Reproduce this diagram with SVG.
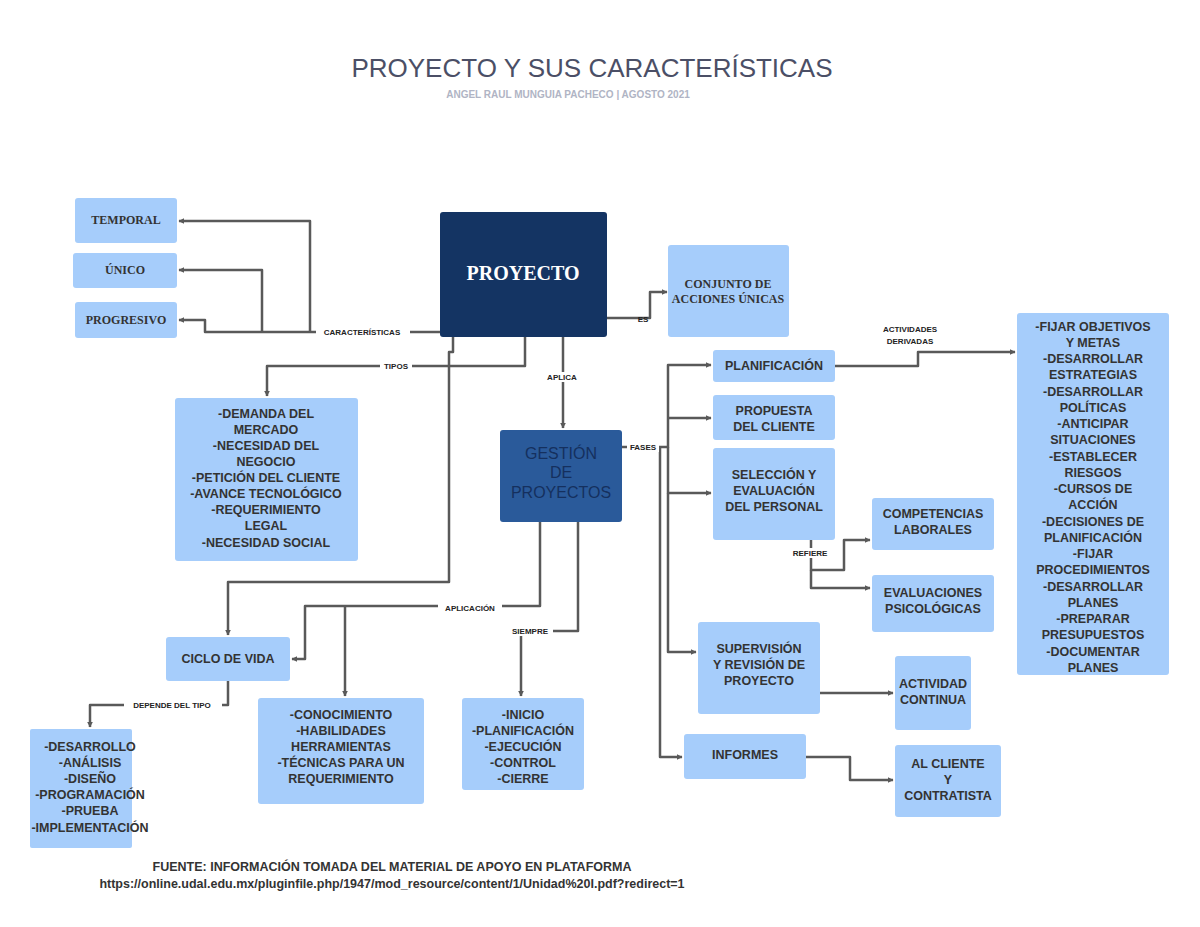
<svg xmlns="http://www.w3.org/2000/svg" width="1200" height="927" viewBox="0 0 1200 927">
<defs>
<marker id="ah" viewBox="0 0 10 10" refX="9" refY="5" markerWidth="6" markerHeight="6" orient="auto" markerUnits="userSpaceOnUse"><path d="M0,0 L10,5 L0,10 z" fill="#595959"/></marker>
<style>
.n{fill:#a6cdfb}
.t{font-family:"Liberation Sans",Arial,sans-serif;font-weight:bold;font-size:12.5px;fill:#333;text-anchor:middle}
.s{font-family:"Liberation Serif","Times New Roman",serif;font-weight:bold;font-size:12px;fill:#333;text-anchor:middle}
.c{fill:none;stroke:#595959;stroke-width:2.5;stroke-linejoin:round}
.a{marker-end:url(#ah)}
.l{font-family:"Liberation Sans",Arial,sans-serif;font-weight:bold;font-size:8px;fill:#222;text-anchor:middle}
.lb{fill:#fff}
</style>
</defs>
<rect width="1200" height="927" fill="#fff"/>
<text x="592" y="77" font-family="Liberation Sans,Arial,sans-serif" font-size="26" fill="#4b4f66" text-anchor="middle">PROYECTO Y SUS CARACTERÍSTICAS</text>
<text x="568" y="98" font-family="Liberation Sans,Arial,sans-serif" font-size="10" font-weight="bold" fill="#b0b4c4" text-anchor="middle">ANGEL RAUL MUNGUIA PACHECO  |  AGOSTO 2021</text>

<g id="connectors">
<path class="c a" d="M440,332 H205 V320 H179"/>
<path class="c a" d="M310,332 V221 H179"/>
<path class="c a" d="M262,332 V270 H179"/>
<rect class="lb" x="316" y="326" width="94" height="11"/><text class="l" x="362" y="335">CARACTERÍSTICAS</text>
<path class="c a" d="M607,318 H650 V292 H667"/>
<text class="l" x="643" y="322">ES</text>
<path class="c a" d="M525,337 V366 H267 V396"/>
<rect class="lb" x="380" y="361" width="32" height="10"/><text class="l" x="396" y="369">TIPOS</text>
<path class="c a" d="M563,337 V428"/>
<rect class="lb" x="542" y="372" width="40" height="10"/><text class="l" x="562" y="380">APLICA</text>
<path class="c a" d="M453,337 V352 H449 V582 H228 V635"/>
<path class="c a" d="M540,522 V606 H305 V659 H292"/>
<path class="c a" d="M345,606 V696"/>
<rect class="lb" x="438" y="603" width="64" height="10"/><text class="l" x="470" y="611">APLICACIÓN</text>
<path class="c a" d="M578,522 V631 H521 V696"/>
<rect class="lb" x="507" y="626" width="46" height="10"/><text class="l" x="530" y="634">SIEMPRE</text>
<path class="c a" d="M228,681 V705 H90 V727"/>
<rect class="lb" x="124" y="700" width="98" height="10"/><text class="l" x="172" y="708">DEPENDE DEL TIPO</text>
<path class="c a" d="M622,447 H668 V365 H711"/>
<path class="c a" d="M668,418 H711"/>
<path class="c a" d="M668,447 V493 H711"/>
<path class="c a" d="M668,493 V652 H696"/>
<path class="c a" d="M660,447 V757 H682"/>
<rect class="lb" x="627" y="442" width="32" height="10"/><text class="l" x="643" y="450">FASES</text>
<path class="c a" d="M835,366 H918 V352 H1015"/>
<text class="l" x="910" y="332">ACTIVIDADES</text><text class="l" x="910" y="344">DERIVADAS</text>
<path class="c a" d="M811,540 V570 H844 V540 H870"/>
<path class="c a" d="M811,570 V588 H870"/>
<rect class="lb" x="788" y="548" width="44" height="10"/><text class="l" x="810" y="556">REFIERE</text>
<path class="c a" d="M820,693 H893"/>
<path class="c a" d="M806,757 H850 V780 H893"/>
</g>

<g id="temporal"><rect class="n" x="75" y="198" width="102" height="45" rx="3"/><text class="s" x="126" y="224">TEMPORAL</text></g>
<g id="unico"><rect class="n" x="73" y="253" width="104" height="35" rx="3"/><text class="s" x="125" y="274">ÚNICO</text></g>
<g id="progresivo"><rect class="n" x="75" y="302" width="102" height="36" rx="3"/><text class="s" x="126" y="324">PROGRESIVO</text></g>
<g id="proyecto"><rect x="440" y="212" width="167" height="125" rx="3" fill="#143463"/><text x="523" y="280" font-family="Liberation Serif,Times New Roman,serif" font-weight="bold" font-size="20" fill="#fff" text-anchor="middle">PROYECTO</text></g>
<g id="conjunto"><rect class="n" x="668" y="245" width="121" height="92" rx="3"/><text class="s" x="728" y="288">CONJUNTO DE</text><text class="s" x="728" y="303">ACCIONES ÚNICAS</text></g>
<g id="tipos"><rect class="n" x="175" y="398" width="183" height="163" rx="3"/>
<text class="t" x="266" y="418">-DEMANDA DEL</text><text class="t" x="266" y="434">MERCADO</text><text class="t" x="266" y="450">-NECESIDAD DEL</text><text class="t" x="266" y="466">NEGOCIO</text><text class="t" x="266" y="482">-PETICIÓN DEL CLIENTE</text><text class="t" x="266" y="498">-AVANCE TECNOLÓGICO</text><text class="t" x="266" y="514">-REQUERIMIENTO</text><text class="t" x="266" y="530">LEGAL</text><text class="t" x="266" y="547">-NECESIDAD SOCIAL</text></g>
<g id="gestion"><rect x="500" y="430" width="122" height="92" rx="3" fill="#2a5a9a"/>
<text x="561" y="459" font-family="Liberation Sans,Arial,sans-serif" font-size="16" fill="#15305e" text-anchor="middle">GESTIÓN</text><text x="561" y="478" font-family="Liberation Sans,Arial,sans-serif" font-size="16" fill="#15305e" text-anchor="middle">DE</text><text x="561" y="498" font-family="Liberation Sans,Arial,sans-serif" font-size="16" fill="#15305e" text-anchor="middle">PROYECTOS</text></g>
<g id="planificacion"><rect class="n" x="713" y="350" width="122" height="32" rx="3"/><text class="t" x="774" y="370">PLANIFICACIÓN</text></g>
<g id="propuesta"><rect class="n" x="713" y="395" width="122" height="45" rx="3"/><text class="t" x="774" y="415">PROPUESTA</text><text class="t" x="774" y="431">DEL CLIENTE</text></g>
<g id="seleccion"><rect class="n" x="713" y="448" width="122" height="92" rx="3"/><text class="t" x="774" y="479">SELECCIÓN Y</text><text class="t" x="774" y="495">EVALUACIÓN</text><text class="t" x="774" y="511">DEL PERSONAL</text></g>
<g id="competencias"><rect class="n" x="872" y="498" width="122" height="52" rx="3"/><text class="t" x="933" y="518">COMPETENCIAS</text><text class="t" x="933" y="534">LABORALES</text></g>
<g id="evaluaciones"><rect class="n" x="872" y="575" width="122" height="57" rx="3"/><text class="t" x="933" y="597">EVALUACIONES</text><text class="t" x="933" y="613">PSICOLÓGICAS</text></g>
<g id="supervision"><rect class="n" x="698" y="622" width="122" height="92" rx="3"/><text class="t" x="759" y="653">SUPERVISIÓN</text><text class="t" x="759" y="669">Y REVISIÓN DE</text><text class="t" x="759" y="685">PROYECTO</text></g>
<g id="actividad"><rect class="n" x="895" y="656" width="76" height="74" rx="3"/><text class="t" x="933" y="688">ACTIVIDAD</text><text class="t" x="933" y="704">CONTINUA</text></g>
<g id="informes"><rect class="n" x="684" y="734" width="122" height="45" rx="3"/><text class="t" x="745" y="759">INFORMES</text></g>
<g id="alcliente"><rect class="n" x="895" y="745" width="106" height="72" rx="3"/><text class="t" x="948" y="768">AL CLIENTE</text><text class="t" x="948" y="784">Y</text><text class="t" x="948" y="800">CONTRATISTA</text></g>
<g id="actividades"><rect class="n" x="1017" y="313" width="152" height="362" rx="3"/>
<text class="t" x="1093" y="331">-FIJAR OBJETIVOS</text><text class="t" x="1093" y="347">Y METAS</text><text class="t" x="1093" y="363">-DESARROLLAR</text><text class="t" x="1093" y="379">ESTRATEGIAS</text><text class="t" x="1093" y="396">-DESARROLLAR</text><text class="t" x="1093" y="412">POLÍTICAS</text><text class="t" x="1093" y="428">-ANTICIPAR</text><text class="t" x="1093" y="444">SITUACIONES</text><text class="t" x="1093" y="461">-ESTABLECER</text><text class="t" x="1093" y="477">RIESGOS</text><text class="t" x="1093" y="493">-CURSOS DE</text><text class="t" x="1093" y="509">ACCIÓN</text><text class="t" x="1093" y="526">-DECISIONES DE</text><text class="t" x="1093" y="542">PLANIFICACIÓN</text><text class="t" x="1093" y="558">-FIJAR</text><text class="t" x="1093" y="574">PROCEDIMIENTOS</text><text class="t" x="1093" y="591">-DESARROLLAR</text><text class="t" x="1093" y="607">PLANES</text><text class="t" x="1093" y="623">-PREPARAR</text><text class="t" x="1093" y="639">PRESUPUESTOS</text><text class="t" x="1093" y="656">-DOCUMENTAR</text><text class="t" x="1093" y="672">PLANES</text></g>
<g id="ciclo"><rect class="n" x="166" y="637" width="124" height="44" rx="3"/><text class="t" x="228" y="663">CICLO DE VIDA</text></g>
<g id="desarrollo"><rect class="n" x="30" y="729" width="102" height="119" rx="2"/>
<text class="t" x="90" y="751">-DESARROLLO</text><text class="t" x="90" y="767">-ANÁLISIS</text><text class="t" x="90" y="783">-DISEÑO</text><text class="t" x="90" y="799">-PROGRAMACIÓN</text><text class="t" x="90" y="815">-PRUEBA</text><text class="t" x="90" y="832">-IMPLEMENTACIÓN</text></g>
<g id="conocimiento"><rect class="n" x="258" y="698" width="166" height="106" rx="3"/>
<text class="t" x="341" y="719">-CONOCIMIENTO</text><text class="t" x="341" y="735">-HABILIDADES</text><text class="t" x="341" y="751">HERRAMIENTAS</text><text class="t" x="341" y="767">-TÉCNICAS PARA UN</text><text class="t" x="341" y="783">REQUERIMIENTO</text></g>
<g id="inicio"><rect class="n" x="462" y="698" width="122" height="92" rx="3"/>
<text class="t" x="523" y="719">-INICIO</text><text class="t" x="523" y="735">-PLANIFICACIÓN</text><text class="t" x="523" y="751">-EJECUCIÓN</text><text class="t" x="523" y="767">-CONTROL</text><text class="t" x="523" y="783">-CIERRE</text></g>
<text class="t" x="392" y="871">FUENTE:  INFORMACIÓN TOMADA DEL MATERIAL DE APOYO EN PLATAFORMA</text>
<text class="t" x="392" y="888">https://online.udal.edu.mx/pluginfile.php/1947/mod_resource/content/1/Unidad%20I.pdf?redirect=1</text>
</svg>
